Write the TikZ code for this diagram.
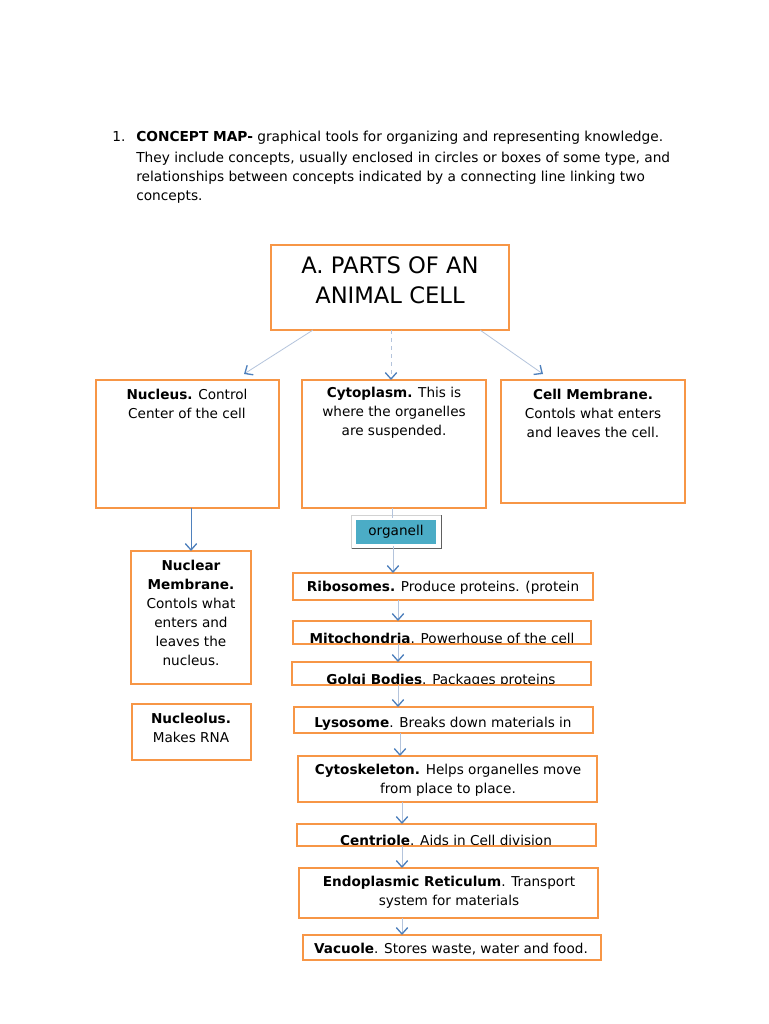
\documentclass[tikz,border=0pt]{standalone}
\usepackage{fontspec}
\setmainfont{DejaVu Sans}
\usetikzlibrary{arrows.meta,fit,calc}
\definecolor{org}{HTML}{F79646}
\definecolor{arr}{HTML}{4F81BD}
\definecolor{shaft}{HTML}{B4C4DC}
\definecolor{tealfill}{HTML}{4BACC6}
\begin{document}
\begin{tikzpicture}[x=0.75pt,y=-0.75pt,
  box/.style={draw=org,line width=1.9pt,inner sep=0pt,outer sep=0pt,fill=white},
  txt/.style={font=\fontsize{10.2}{14.25}\selectfont,align=center,inner sep=0pt},
  hdr/.style={font=\fontsize{10.3}{15}\selectfont,inner sep=0pt,anchor=base west},
  tip/.style={-{Straight Barb[length=4.8pt,width=8.5pt,line width=1pt,color=arr]}},
  conn/.style={draw=shaft,line width=0.6pt,tip},
  connb/.style={draw=arr,line width=0.7pt,tip},
]
\useasboundingbox[fill=white] (0,0) rectangle (768,1024);

% header
\node[hdr] (num) at (112,142) {1.};
\node[hdr] (h1) at (136,142) {\textbf{CONCEPT MAP-} graphical tools for organizing and representing knowledge.};
\node[hdr] (h2) at (136,162) {They include concepts, usually enclosed in circles or boxes of some type, and};
\node[hdr] (h3) at (136,181) {relationships between concepts indicated by a connecting line linking two};
\node[hdr] (h4) at (136,200) {concepts.};

% boxes
\node[box,fit={(271,245) (509,330)}] (title) {};
\node[box,fit={(96,380) (279,508)}] (nuc) {};
\node[box,fit={(302,380) (486,508)}] (cyto) {};
\node[box,fit={(501,380) (685,503)}] (cmem) {};
\node[box,fit={(131,551) (251,684)}] (nmem) {};
\node[box,fit={(132,704) (251,760)}] (nucl) {};
\node[box,fit={(293,573) (593,600)}] (ribo) {};
\node[box,fit={(293,621) (591,644)}] (mito) {};
\node[box,fit={(292,662) (591,685)}] (golgi) {};
\node[box,fit={(294,707) (593,733)}] (lyso) {};
\node[box,fit={(298,756) (597,802)}] (cysk) {};
\node[box,fit={(297,824) (596,846)}] (cent) {};
\node[box,fit={(299,868) (598,918)}] (er) {};
\node[box,fit={(303,935) (601,960)}] (vac) {};

% texts
\node[font=\fontsize{17}{22.5}\selectfont,align=center,inner sep=0pt] (ttl) at (390,280) {A. PARTS OF AN\\ANIMAL CELL};
\node[txt] (tnuc) at (187,404) {\textbf{Nucleus.} Control\\Center of the cell};
\node[txt] (tcyto) at (394,413) {\textbf{Cytoplasm.} This is\\where the organelles\\are suspended.};
\node[txt] (tcmem) at (593,413) {\textbf{Cell Membrane.}\\Contols what enters\\and leaves the cell.};
\node[txt] (tnmem) at (191,613) {\textbf{Nuclear}\\\textbf{Membrane.}\\Contols what\\enters and\\leaves the\\nucleus.};
\node[txt] (tnucl) at (191,728) {\textbf{Nucleolus.}\\Makes RNA};
\node[txt,anchor=base] (tribo) at (443,591) {\textbf{Ribosomes.} Produce proteins. (protein};
\begin{scope}
  \clip ($(mito.north west)+(1,1)$) rectangle ($(mito.south east)+(-1,-2)$);
  \node[txt,anchor=base] (tmito) at (442,643) {\textbf{Mitochondria}. Powerhouse of the cell};
\end{scope}
\begin{scope}
  \clip ($(golgi.north west)+(1,1)$) rectangle ($(golgi.south east)+(-1,-2)$);
  \node[txt,anchor=base] (tgolgi) at (441,684) {\textbf{Golgi Bodies}. Packages proteins};
\end{scope}
\node[txt,anchor=base] (tlyso) at (443,727) {\textbf{Lysosome}. Breaks down materials in};
\node[txt] (tcysk) at (448,780) {\textbf{Cytoskeleton.} Helps organelles move\\from place to place.};
\begin{scope}
  \clip ($(cent.north west)+(1,1)$) rectangle ($(cent.south east)+(-1,-2)$);
  \node[txt,anchor=base] (tcent) at (446,845) {\textbf{Centriole}. Aids in Cell division};
\end{scope}
\node[txt] (ter) at (449,892) {\textbf{Endoplasmic Reticulum}. Transport\\system for materials};
\node[txt,anchor=base] (tvac) at (451,953) {\textbf{Vacuole}. Stores waste, water and food.};
% redraw clipped box borders
\draw[draw=org,line width=1.9pt] (mito.north west) rectangle (mito.south east);
\draw[draw=org,line width=1.9pt] (golgi.north west) rectangle (golgi.south east);
\draw[draw=org,line width=1.9pt] (cent.north west) rectangle (cent.south east);

% organell label box
\node[fill=tealfill,draw=white,line width=1.5pt,inner sep=0pt,minimum width=62pt,minimum height=19pt,
      font=\fontsize{10.2}{12}\selectfont] (orgn) at (396,532) {organell};
\draw[gray!35,line width=0.6pt] ($(orgn.south west)+(-2,3)$) -- ($(orgn.north west)+(-2,-3)$) -- ($(orgn.north east)+(3,-3)$);
\draw[gray!75!black,line width=1pt] ($(orgn.north east)+(3,-3)$) -- ($(orgn.south east)+(3,3)$) -- ($(orgn.south west)+(-2,3)$);

% column coordinates
\coordinate (cA) at (398,0);
\coordinate (cB) at (400,0);
\coordinate (cC) at (402,0);

% connectors
\draw[conn] ($(title.south west)+(42,0)$) -- ($(nuc.north west)+(148,-6)$);
\draw[conn,dashed] (title.south -| 391,0) -- (cyto.north -| 391,0);
\draw[conn] ($(title.south east)+(-29,0)$) -- ($(cmem.north west)+(42,-6)$);
\draw[connb] (nuc.south -| nmem.north) -- (nmem.north);
\draw[draw=shaft,line width=0.6pt] (cyto.south -| 392,0) -- (orgn.north -| 392,0);
\draw[conn] (orgn.south -| 393,0) -- (ribo.north -| 393,0);
\draw[conn] (ribo.south -| cA) -- (mito.north -| cA);
\draw[conn] (mito.south -| cA) -- (golgi.north -| cA);
\draw[conn] (golgi.south -| cA) -- (lyso.north -| cA);
\draw[conn] (lyso.south -| cB) -- (cysk.north -| cB);
\draw[conn] (cysk.south -| cC) -- (cent.north -| cC);
\draw[conn] (cent.south -| cC) -- (er.north -| cC);
\draw[conn] (er.south -| cC) -- (vac.north -| cC);
\end{tikzpicture}
\end{document}
